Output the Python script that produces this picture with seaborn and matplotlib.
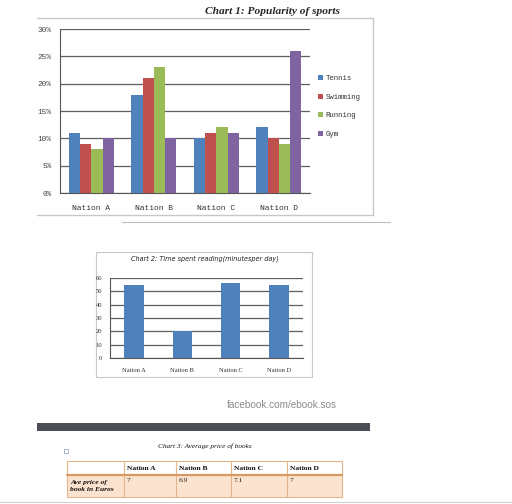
import numpy as np
import pandas as pd
import matplotlib
matplotlib.use("Agg")
import matplotlib.pyplot as plt
import seaborn as sns
from matplotlib.patches import Rectangle

# ---- data ----
nations = ["Nation A", "Nation B", "Nation C", "Nation D"]
sports = ["Tennis", "Swimming", "Running", "Gym"]
tennis = [11, 18, 10, 12]
swimming = [9, 21, 11, 10]
running = [8, 23, 12, 9]
gym = [10, 10, 11, 26]
pct_ticks = [0, 5, 10, 15, 20, 25, 30]

reading_minutes = [55, 20, 56, 55]
reading_ticks = [0, 10, 20, 30, 40, 50, 60]

book_price = ["7", "6.9", "7.1", "7"]
price_row_label = "Ave price of\nbook in Euros"

sport_colors = ["#4F81BD", "#C0504D", "#9BBB59", "#8064A2"]

W, H = 512, 504
sns.set_style("white")
plt.rcParams["font.family"] = ["DejaVu Sans"]

fig = plt.figure(figsize=(W / 100, H / 100), dpi=100)


def px_axes(x0, y0, x1, y1):
    return fig.add_axes([x0 / W, 1 - y1 / H, (x1 - x0) / W, (y1 - y0) / H])


# overlay for frames, text and table (pixel coordinates)
ov = fig.add_axes([0, 0, 1, 1], zorder=0)
ov.set_xlim(0, W)
ov.set_ylim(H, 0)
ov.axis("off")

# ---- Chart 1 ----
df1 = pd.DataFrame({"nation": nations * 4,
                    "sport": np.repeat(sports, 4),
                    "value": tennis + swimming + running + gym})
ax1 = px_axes(60, 29, 310, 193)
ax1.set_zorder(2)
sns.barplot(data=df1, x="nation", y="value", hue="sport", hue_order=sports,
            palette=sport_colors, width=0.72, saturation=1, ax=ax1,
            edgecolor="none", zorder=3)
ax1.set_ylim(0, 30)
ax1.set_xlim(-0.5, 3.5)
ax1.set_yticks(pct_ticks)
ax1.set_yticklabels([f"{t}%" for t in pct_ticks])
ax1.yaxis.grid(True, color="#5e5e5e", linewidth=0.9)
ax1.set_axisbelow(True)
for s in ["top", "right"]:
    ax1.spines[s].set_visible(False)
for s in ["left", "bottom"]:
    ax1.spines[s].set_color("#555555")
    ax1.spines[s].set_linewidth(0.8)
ax1.set_xlabel("")
ax1.set_ylabel("")
ax1.tick_params(axis="y", length=3, width=0.8, color="#555555", pad=3,
                labelsize=5.6, labelcolor="#444444")
ax1.tick_params(axis="x", length=0, pad=9, labelsize=5.8, labelcolor="#333333")
ax1.set_xticks(np.arange(-0.5, 4, 1), minor=True)
ax1.tick_params(axis="x", which="minor", length=3, width=0.8, color="#555555")
for lab in ax1.get_xticklabels() + ax1.get_yticklabels():
    lab.set_family("Liberation Mono")
leg = ax1.legend(loc="upper left", bbox_to_anchor=(315 / W, 1 - 72 / H),
                 bbox_transform=fig.transFigure, frameon=False,
                 prop={"family": "Liberation Mono", "size": 5.3},
                 handlelength=0.7, handleheight=0.7, handletextpad=0.3,
                 labelspacing=1.55, borderaxespad=0)
for t in leg.get_texts():
    t.set_color("#333333")

ov.text(272, 11, "Chart 1: Popularity of sports", ha="center", va="center",
        family="Liberation Serif", style="italic", weight="bold", size=8.2)
frame_c = "#c8c8c8"
ov.plot([37, 373], [18, 18], color=frame_c, lw=1)
ov.plot([373, 373], [18, 215], color=frame_c, lw=1)
ov.plot([37, 373], [215, 215], color=frame_c, lw=1)
ov.plot([122, 390], [222, 222], color="#bbbbbb", lw=0.8)

# ---- Chart 2 ----
df2 = pd.DataFrame({"nation": nations, "minutes": reading_minutes})
ax2 = px_axes(110, 278, 303, 358)
ax2.set_zorder(2)
sns.barplot(data=df2, x="nation", y="minutes", color="#4F81BD", saturation=1,
            width=0.4, ax=ax2, edgecolor="none", zorder=3)
ax2.set_ylim(0, 60)
ax2.set_xlim(-0.5, 3.5)
ax2.set_yticks(reading_ticks)
ax2.yaxis.grid(True, color="#5e5e5e", linewidth=0.9)
ax2.set_axisbelow(True)
for s in ["top", "right"]:
    ax2.spines[s].set_visible(False)
for s in ["left", "bottom"]:
    ax2.spines[s].set_color("#555555")
    ax2.spines[s].set_linewidth(0.8)
ax2.set_xlabel("")
ax2.set_ylabel("")
ax2.tick_params(axis="y", length=2.5, width=0.8, color="#555555", pad=3,
                labelsize=4.7, labelcolor="#333333")
ax2.tick_params(axis="x", length=0, pad=7, labelsize=4.7, labelcolor="#333333")
ax2.set_xticks(np.arange(-0.5, 4, 1), minor=True)
ax2.tick_params(axis="x", which="minor", length=2.5, width=0.8, color="#555555")
for lab in ax2.get_xticklabels() + ax2.get_yticklabels():
    lab.set_family("Liberation Serif")

ov.text(205, 259, "Chart 2: Time spent reading(minutesper day)", ha="center",
        va="center", family="DejaVu Sans", style="italic", size=4.7,
        color="#222222")
ov.add_patch(Rectangle((96, 252), 216, 125, fill=False, ec=frame_c, lw=0.8))

# ---- watermark and dark bar ----
ov.text(282, 405, "facebook.com/ebook.sos", ha="center", va="center",
        family="Liberation Sans", size=7.2, color="#8a8a8a")
ov.add_patch(Rectangle((37, 423), 333, 8, color="#4b4f55", lw=0))

# ---- Chart 3 (table) ----
ov.text(205, 446, "Chart 3: Average price of books", ha="center", va="center",
        family="Liberation Serif", style="italic", size=5.2, color="#111111")
col_edges = [67, 124, 176, 231, 287, 342]
head_top, head_bot, body_bot = 461, 475, 497
border_c = "#e3b58a"
ov.add_patch(Rectangle((col_edges[0], head_bot), col_edges[-1] - col_edges[0],
                       body_bot - head_bot, fc="#fbe3cf", ec="none"))
ov.add_patch(Rectangle((col_edges[0], head_top), col_edges[-1] - col_edges[0],
                       body_bot - head_top, fill=False, ec=border_c, lw=0.8))
for xe in col_edges[1:-1]:
    ov.plot([xe, xe], [head_top, body_bot], color=border_c, lw=0.8)
ov.plot([col_edges[0], col_edges[-1]], [head_bot, head_bot], color="#d99a62", lw=1.6)
for i, (name, price) in enumerate(zip(nations, book_price)):
    x = col_edges[i + 1] + 3
    ov.text(x, (head_top + head_bot) / 2, name, ha="left", va="center",
            family="Liberation Serif", weight="bold", size=5.4, color="#111111")
    ov.text(x, head_bot + 5.5, price, ha="left", va="center",
            family="Liberation Serif", size=5.4, color="#222222")
ov.text(col_edges[0] + 3, (head_bot + body_bot) / 2, price_row_label, ha="left",
        va="center", family="Liberation Serif", style="italic", weight="bold",
        size=5.4, linespacing=1.6, color="#111111")
ov.add_patch(Rectangle((63.5, 449), 4, 4, fill=False, ec="#8899bb", lw=0.5))
ov.plot([0, 512], [502, 502], color="#d0d0d0", lw=0.8)

fig.savefig("out.png", dpi=100)
